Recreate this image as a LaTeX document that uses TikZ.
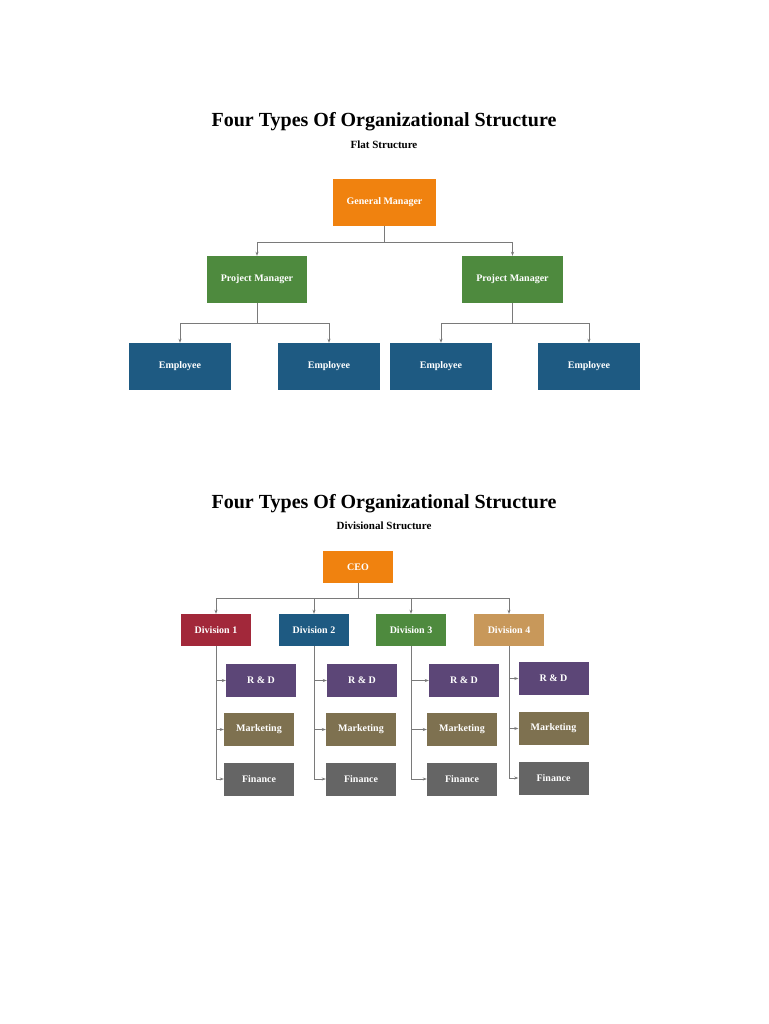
\documentclass[tikz,border=0pt]{standalone}
\usepackage{fontspec}
\setmainfont{Liberation Serif}
\usetikzlibrary{arrows.meta}
\definecolor{orng}{HTML}{F0820F}
\definecolor{grn}{HTML}{4E8A3E}
\definecolor{blu}{HTML}{1E5A82}
\definecolor{red}{HTML}{A2283A}
\definecolor{tan}{HTML}{C8985A}
\definecolor{rd}{HTML}{5C4677}
\definecolor{mk}{HTML}{7E7150}
\definecolor{fin}{HTML}{656565}
\definecolor{ln}{HTML}{7A7A7A}
\begin{document}
\begin{tikzpicture}[x=1pt,y=-1pt,
  box/.style={draw=none,text=white,font=\bfseries\fontsize{10}{12}\selectfont,inner sep=0pt},
  con/.style={draw=ln,line width=1pt},
  arr/.style={con,-{Stealth[length=4pt,width=3pt]}},
  ttl/.style={font=\bfseries\fontsize{20}{24}\selectfont},
  sub/.style={font=\bfseries\fontsize{11}{13}\selectfont}]
\useasboundingbox (0,0) rectangle (768,1024);
\fill[white] (0,0) rectangle (768,1024);
\newcommand{\bx}[6]{\node[box,fill=#2,minimum width=#5pt,minimum height=#6pt] (#1) at (#3,#4) {#2text};}
\tikzset{mk/.code args={#1/#2/#3/#4/#5/#6/#7}{}}
% flat
\node[ttl] (t1) at (384,122) {Four Types Of Organizational Structure};
\node[sub] (s1) at (384,145) {Flat Structure};
\node[box,fill=orng,minimum width=103pt,minimum height=47pt] (gm) at (384.5,202.5) {General Manager};
\node[box,fill=grn,minimum width=100pt,minimum height=47pt] (pm1) at (257,279.5) {Project Manager};
\node[box,fill=grn,minimum width=101pt,minimum height=47pt] (pm2) at (512.5,279.5) {Project Manager};
\foreach \n/\x in {e1/180,e2/329,e3/441,e4/589}
  \node[box,fill=blu,minimum width=102pt,minimum height=47pt] (\n) at (\x,366.5) {Employee};
\coordinate (j0) at (384.5,242);
\draw[con] (gm.south) -- (j0);
\draw[arr] (j0) -| (pm1.north);
\draw[arr] (j0) -| (pm2.north);
\coordinate (j1) at (257,323);
\coordinate (j2) at (512.5,323);
\draw[con] (pm1.south) -- (j1);
\draw[con] (pm2.south) -- (j2);
\draw[arr] (j1) -| (e1.north);
\draw[arr] (j1) -| (e2.north);
\draw[arr] (j2) -| (e3.north);
\draw[arr] (j2) -| (e4.north);
% divisional
\node[ttl] (t2) at (384,504) {Four Types Of Organizational Structure};
\node[sub] (s2) at (384,526) {Divisional Structure};
\node[box,fill=orng,minimum width=70pt,minimum height=32pt] (ceo) at (358,567) {CEO};
\coordinate (j3) at (358,598);
\draw[con] (ceo.south) -- (j3);
\foreach \i/\c/\x/\rx/\mx/\fx/\ry/\my/\fy in
  {1/red/216/261/259/259/680.5/729.5/779,
   2/blu/314/362/361/361/680.5/729.5/779,
   3/grn/411/464/462/462/680.5/729.5/779,
   4/tan/509/553.5/553.5/553.5/678.5/728.5/778}{
  \node[box,fill=\c,minimum width=70pt,minimum height=32pt] (d\i) at (\x,630) {Division \i};
  \draw[arr] (j3) -| (d\i.north);
  \node[box,fill=rd,minimum width=70pt,minimum height=33pt] (r\i) at (\rx,\ry) {R \& D};
  \node[box,fill=mk,minimum width=70pt,minimum height=33pt] (m\i) at (\mx,\my) {Marketing};
  \node[box,fill=fin,minimum width=70pt,minimum height=33pt] (f\i) at (\fx,\fy) {Finance};
  \coordinate (b\i) at (\x,\fy);
  \draw[con] (d\i.south) -- (b\i);
  \draw[arr] (d\i.south |- r\i.west) -- (r\i.west);
  \draw[arr] (d\i.south |- m\i.west) -- (m\i.west);
  \draw[arr] (b\i) -- (f\i.west);
}
\end{tikzpicture}
\end{document}
